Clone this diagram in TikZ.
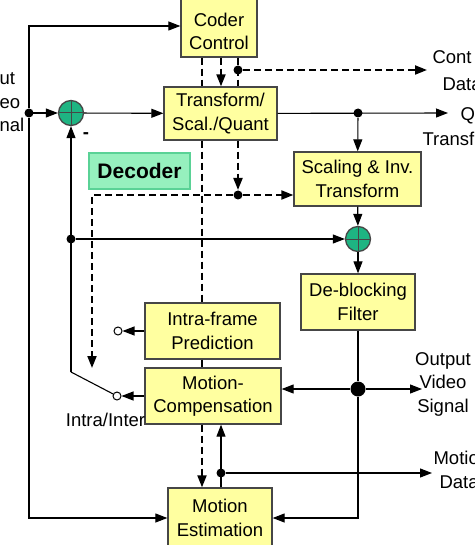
\documentclass[tikz,border=0pt]{standalone}
\usepackage{fontspec}
\setmainfont{Liberation Sans}
\usetikzlibrary{arrows.meta}
\definecolor{boxyellow}{RGB}{255,255,160}
\definecolor{boxline}{RGB}{70,70,70}
\definecolor{addgreen}{RGB}{30,180,130}
\definecolor{decfill}{RGB}{150,240,190}
\definecolor{decline}{RGB}{90,210,150}

\begin{document}
\begin{tikzpicture}[x=1pt,y=-1pt,>={Triangle[length=12pt,width=9pt]},line width=1.1pt]
\tikzstyle{box}=[rectangle,draw=boxline,line width=1.3pt,fill=boxyellow,align=center,font=\fontsize{18.5}{23.5}\selectfont]
\tikzstyle{adder}=[circle,draw=boxline,line width=1.3pt,fill=addgreen,minimum size=25pt,inner sep=0pt,
  path picture={\draw[line width=1pt] (path picture bounding box.north) -- (path picture bounding box.south)
  (path picture bounding box.west) -- (path picture bounding box.east);}]
\tikzstyle{decbox}=[rectangle,draw=decline,line width=1.3pt,fill=decfill,font=\bfseries\fontsize{21}{24}\selectfont]
\tikzstyle{lbl}=[align=center,font=\fontsize{18.5}{23.5}\selectfont,inner sep=0pt]
\tikzstyle{junct}=[circle,fill,inner sep=0pt,minimum size=9pt]
\tikzstyle{term}=[circle,draw,fill=white,inner sep=0pt,minimum size=8pt,line width=1pt]
\tikzstyle{ctrl}=[dash pattern=on 7pt off 4pt,line width=2pt]

\useasboundingbox (0,0) rectangle (474,545);

% blocks
\node[box,minimum width=76pt,minimum height=62pt] (coder) at (219,26) {\rule{0pt}{24pt}Coder\\Control};
\node[box,minimum width=113pt,minimum height=53pt] (trans) at (220.5,113.5) {Transform/\\Scal./Quant};
\node[box,minimum width=127pt,minimum height=54pt] (scal) at (357.5,179) {Scaling \& Inv.\\Transform};
\node[box,minimum width=114pt,minimum height=56pt] (deblock) at (358,302) {De-blocking\\Filter};
\node[box,minimum width=135pt,minimum height=56pt] (intra) at (212.5,331) {Intra-frame\\Prediction};
\node[box,minimum width=136pt,minimum height=56pt] (mc) at (213,396) {Motion-\\Compensation};
\node[box,minimum width=104pt,minimum height=60pt] (me) at (220,518) {Motion\\Estimation};
\node[decbox,minimum width=101pt,minimum height=36pt] (decoder) at (139.5,171) {Decoder};

\node[adder] (sum1) at (71,113) {};
\node[adder] (sum2) at (358,239) {};

% texts
\node[lbl,align=left,anchor=west] (input) at (-1,102.5) {ut\\eo\\nal};
\node[lbl,align=left,anchor=west] (ctrltxt) at (432,71) {Cont\\[3.5pt]\hspace*{10pt}Data};
\node[lbl,align=left,anchor=west] (qtxt) at (422,127) {\hspace*{38pt}Q\\[1.5pt]Transf};
\node[lbl] (outtxt) at (443,384) {Output\\Video\\Signal};
\node[lbl,align=left,anchor=west] (mvtxt) at (433,470) {Motio\\\hspace*{6pt}Data};
\node[lbl] (swtxt) at (105.5,420) {Intra/Inter};
\node[lbl,font=\bfseries\fontsize{18.5}{23.5}\selectfont] (minus) at (86,136) {-};

% junctions and ends
\node[junct] (in) at (29,113) {};
\node[junct] (ctrl) at (238,70) {};
\node[junct] (dec) at (238,195) {};
\node[junct] (qdot) at (358,113) {};
\node[junct] (fb) at (71,239) {};
\node[junct,minimum size=15pt] (outdot) at (358,389) {};
\node[junct] (mvdot) at (221,473) {};
\node[term] (tIntra) at (118,331) {};
\node[term] (tInter) at (117,396) {};
\coordinate (sw) at (71,372);
\coordinate (decend) at (92,368);
\coordinate (ctrlout) at (427,70);
\coordinate (qout) at (448,113);
\coordinate (vout) at (422,389);
\coordinate (mvout) at (432,473);
\coordinate (xa) at (202,0);
\coordinate (xb) at (221,0);
\coordinate (xc) at (238,0);

% signal path
\draw[->] (input.east |- in) -- (sum1);
\draw[->] (in) |- (coder);
\draw[->] (in) |- (me);
\draw[->] (sum1) -- (trans);
\draw[->] (trans) -- (qout);
\draw[->] (qdot) -- (scal);
\draw[->] (scal) -- (sum2);
\draw[->] (sum2) -- (deblock);
\draw (deblock) -- (outdot);
\draw[->] (outdot) -- (vout);
\draw[->] (outdot) -- (mc.east |- outdot);
\draw[->] (outdot) |- (me);
\draw[->] (me.north -| mvdot) -- (mc.south -| mvdot);
\draw[->] (mvdot) -- (mvout);
\draw[->] (intra) -- (tIntra);
\draw[->] (mc) -- (tInter);
\draw (sw) -- (tInter);
\draw[->] (sw) -- (sum1);
\draw[->] (fb) -- (sum2);

% control path
\draw[ctrl] (coder.south -| xa) -- (trans.north -| xa);
\draw[ctrl] (trans.south -| xa) -- (intra.north -| xa);
\draw[ctrl] (intra.south -| xa) -- (mc.north -| xa);
\draw[ctrl,->] (mc.south -| xa) -- (me.north -| xa);
\draw[ctrl,->] (coder.south -| xb) -- (trans.north -| xb);
\draw[ctrl] (coder.south -| xc) -- (trans.north -| xc);
\draw[ctrl,->] (ctrl) -- (ctrlout);
\draw[ctrl,->] (trans.south -| xc) -- (dec);
\draw[ctrl,->] (dec) -- (scal.west |- dec);
\draw[ctrl,->] (dec) -| (decend);

\end{tikzpicture}
\end{document}
